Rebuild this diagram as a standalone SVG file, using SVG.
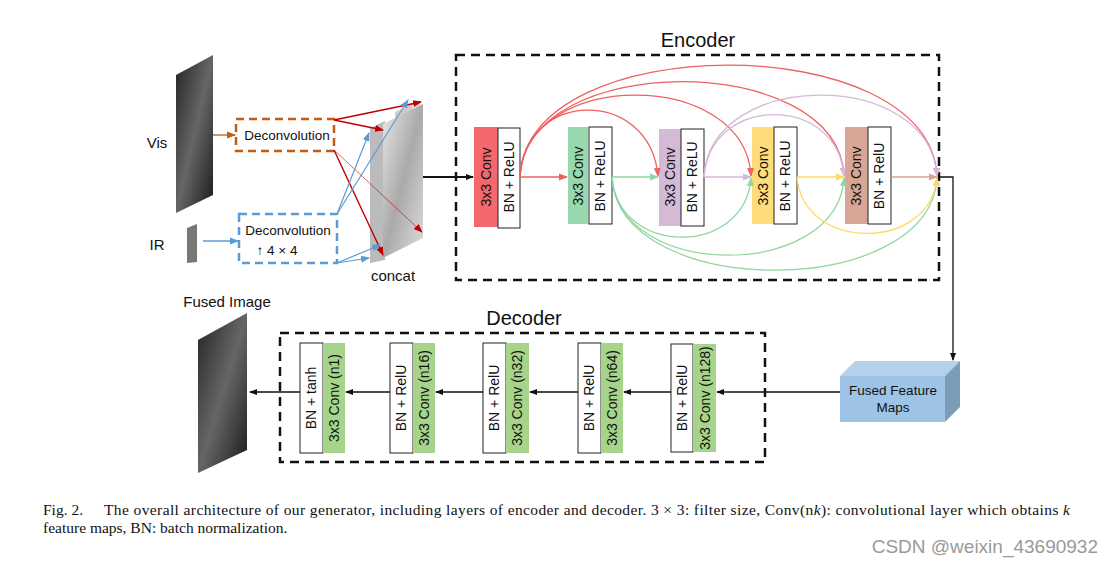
<svg xmlns="http://www.w3.org/2000/svg" width="1112" height="565" viewBox="0 0 1112 565">
<style>
text{font-family:"Liberation Sans",Arial,sans-serif;fill:#111}
.t{font-size:14px;text-anchor:middle;dominant-baseline:central}
.w{fill:#fff;stroke:#222;stroke-width:1}
.dash{fill:none;stroke:#111;stroke-width:2.5;stroke-dasharray:9,6}
.c{fill:none;stroke-width:1.3}
.cap{font-family:"Liberation Serif","Times New Roman",serif;font-size:15.5px}
</style>
<defs>
<marker id="ak" markerWidth="8" markerHeight="8" refX="7" refY="4" orient="auto" markerUnits="userSpaceOnUse"><path d="M0,1 L8,4 L0,7z" fill="#111"/></marker>
<marker id="ar" markerWidth="9" markerHeight="8" refX="8" refY="4" orient="auto" markerUnits="userSpaceOnUse"><path d="M0,0.5 L9,4 L0,7.5z" fill="#f06060"/></marker>
<marker id="ar2" markerWidth="9" markerHeight="8" refX="8" refY="4" orient="auto" markerUnits="userSpaceOnUse"><path d="M0,0.5 L9,4 L0,7.5z" fill="#c00000"/></marker>
<marker id="ag" markerWidth="9" markerHeight="8" refX="8" refY="4" orient="auto" markerUnits="userSpaceOnUse"><path d="M0,0.5 L9,4 L0,7.5z" fill="#8fd6a0"/></marker>
<marker id="ap" markerWidth="9" markerHeight="8" refX="8" refY="4" orient="auto" markerUnits="userSpaceOnUse"><path d="M0,0.5 L9,4 L0,7.5z" fill="#d6b8d8"/></marker>
<marker id="ay" markerWidth="9" markerHeight="8" refX="8" refY="4" orient="auto" markerUnits="userSpaceOnUse"><path d="M0,0.5 L9,4 L0,7.5z" fill="#ffd966"/></marker>
<marker id="ab" markerWidth="9" markerHeight="8" refX="8" refY="4" orient="auto" markerUnits="userSpaceOnUse"><path d="M0,0.5 L9,4 L0,7.5z" fill="#d9a592"/></marker>
<marker id="abl" markerWidth="9" markerHeight="8" refX="8" refY="4" orient="auto" markerUnits="userSpaceOnUse"><path d="M0,0.5 L9,4 L0,7.5z" fill="#5b9bd5"/></marker>
<marker id="ao" markerWidth="9" markerHeight="8" refX="8" refY="4" orient="auto" markerUnits="userSpaceOnUse"><path d="M0,0.5 L9,4 L0,7.5z" fill="#c55a11"/></marker>
<linearGradient id="img" x1="0" y1="0" x2="1" y2="1"><stop offset="0" stop-color="#222"/><stop offset="0.5" stop-color="#666"/><stop offset="1" stop-color="#1a1a1a"/></linearGradient>
<linearGradient id="img2" x1="0" y1="0" x2="1" y2="1"><stop offset="0" stop-color="#e8e8e8"/><stop offset="0.5" stop-color="#aaa"/><stop offset="1" stop-color="#ddd"/></linearGradient>
</defs>

<g id="vis"><polygon points="176,75 213,55 213,195 176,213" fill="url(#img)"/><text x="157" y="148" font-size="15" text-anchor="middle">Vis</text></g>
<g id="ir"><polygon points="187,228 197,224 197,262 187,263" fill="#777"/><text x="157" y="250" font-size="15" text-anchor="middle">IR</text></g>
<g id="deconv-vis"><rect x="236" y="119" width="98" height="32" fill="none" stroke="#c55a11" stroke-width="2.5" stroke-dasharray="8,5"/><text x="287" y="140" font-size="13.5" text-anchor="middle">Deconvolution</text></g>
<g id="deconv-ir"><rect x="239" y="214" width="98" height="49" fill="none" stroke="#5b9bd5" stroke-width="2.5" stroke-dasharray="8,5"/><text x="288" y="235" font-size="13.5" text-anchor="middle">Deconvolution</text><text x="277" y="255" font-size="13.5" text-anchor="middle">↑ 4 × 4</text></g>
<g id="concat">
<polygon points="405,106 420,100 423,232 405,240" fill="#ddd"/>
<polygon points="395,112 412,104 414,240 395,248" fill="#ccc"/>
<polygon points="370,128 385,121 385,260 370,263" fill="#bbb"/>
<polygon points="383,124 423,104 423,238 383,258" fill="url(#img2)"/>
<text x="393" y="281" font-size="15" text-anchor="middle">concat</text>
</g>
<g id="fused-image"><polygon points="198,340 247,313 247,450 198,473" fill="url(#img)"/><text x="227" y="307" font-size="15" text-anchor="middle">Fused Image</text></g>

<g id="encoder"><rect x="456" y="55" width="483" height="225" class="dash"/><text x="698" y="47" font-size="20" text-anchor="middle">Encoder</text></g>
<g id="enc1"><rect x="474" y="127" width="24" height="100" fill="#f4676c"/><rect x="498" y="128" width="22" height="100" class="w"/><text class="t" transform="translate(486,177) rotate(-90)">3x3 Conv</text><text class="t" transform="translate(509,177) rotate(-90)">BN + ReLU</text></g>
<g id="enc2"><rect x="568" y="127" width="20" height="97" fill="#98d8ae"/><rect x="589" y="127" width="23" height="97" class="w"/><text class="t" transform="translate(578,176) rotate(-90)">3x3 Conv</text><text class="t" transform="translate(600,176) rotate(-90)">BN + ReLU</text></g>
<g id="enc3"><rect x="659" y="129" width="22" height="97" fill="#d5bad6"/><rect x="681" y="129" width="23" height="97" class="w"/><text class="t" transform="translate(670,177) rotate(-90)">3x3 Conv</text><text class="t" transform="translate(692,177) rotate(-90)">BN + ReLU</text></g>
<g id="enc4"><rect x="752" y="127" width="22" height="97" fill="#ffdc7a"/><rect x="774" y="127" width="23" height="97" class="w"/><text class="t" transform="translate(763,176) rotate(-90)">3x3 Conv</text><text class="t" transform="translate(785,176) rotate(-90)">BN + ReLU</text></g>
<g id="enc5"><rect x="845" y="127" width="23" height="97" fill="#d7a694"/><rect x="868" y="127" width="23" height="97" class="w"/><text class="t" transform="translate(856,176) rotate(-90)">3x3 Conv</text><text class="t" transform="translate(879,176) rotate(-90)">BN + RelU</text></g>

<g id="decoder"><rect x="280" y="333" width="485" height="129" class="dash"/><text x="524" y="325" font-size="20" text-anchor="middle">Decoder</text></g>
<g id="dec1"><rect x="300" y="343" width="23" height="110" class="w"/><rect x="323" y="343" width="22" height="110" fill="#a6d48a"/><text class="t" transform="translate(311,398) rotate(-90)">BN + tanh</text><text class="t" transform="translate(334,398) rotate(-90)">3x3 Conv (n1)</text></g>
<g id="dec2"><rect x="390" y="343" width="23" height="110" class="w"/><rect x="413" y="343" width="22" height="110" fill="#a6d48a"/><text class="t" transform="translate(401,398) rotate(-90)">BN + RelU</text><text class="t" transform="translate(424,398) rotate(-90)">3x3 Conv (n16)</text></g>
<g id="dec3"><rect x="483" y="343" width="23" height="110" class="w"/><rect x="506" y="343" width="23" height="110" fill="#a6d48a"/><text class="t" transform="translate(494,398) rotate(-90)">BN + RelU</text><text class="t" transform="translate(517,398) rotate(-90)">3x3 Conv (n32)</text></g>
<g id="dec4"><rect x="578" y="343" width="23" height="110" class="w"/><rect x="601" y="343" width="22" height="110" fill="#a6d48a"/><text class="t" transform="translate(589,398) rotate(-90)">BN + RelU</text><text class="t" transform="translate(612,398) rotate(-90)">3x3 Conv (n64)</text></g>
<g id="dec5"><rect x="671" y="344" width="22" height="108" class="w"/><rect x="693" y="344" width="23" height="108" fill="#a6d48a"/><text class="t" transform="translate(682,398) rotate(-90)">BN + RelU</text><text class="t" transform="translate(705,398) rotate(-90)">3x3 Conv (n128)</text></g>

<g id="fused-maps">
<polygon points="840,376 855,361 960,361 945,376" fill="#b4d1ea"/>
<polygon points="945,376 960,361 960,407 945,422" fill="#7c9db8"/>
<rect x="840" y="376" width="105" height="46" fill="#9dc3e6"/>
<text x="893" y="395" font-size="13.5" text-anchor="middle">Fused Feature</text>
<text x="893" y="412" font-size="13.5" text-anchor="middle">Maps</text>
</g>

<g id="connectors">
<line x1="213" y1="135" x2="235" y2="135" stroke="#c55a11" stroke-width="1.3" marker-end="url(#ao)"/>
<line x1="203" y1="241" x2="238" y2="241" stroke="#5b9bd5" stroke-width="1.3" marker-end="url(#abl)"/>
<g stroke="#c00000" stroke-width="1.4" marker-end="url(#ar2)">
<line x1="334" y1="120" x2="421" y2="102"/><line x1="334" y1="120" x2="383" y2="130"/>
<line x1="334" y1="150" x2="383" y2="255"/><line x1="334" y1="150" x2="422" y2="232" stroke-width="0.6"/>
</g>
<g stroke="#5b9bd5" stroke-width="1.2" marker-end="url(#abl)">
<line x1="337" y1="214" x2="369" y2="133"/><line x1="337" y1="214" x2="408" y2="100"/>
<line x1="337" y1="263" x2="369" y2="258"/><line x1="337" y1="263" x2="380" y2="245"/>
</g>
<line x1="423" y1="177" x2="473" y2="177" stroke="#111" stroke-width="1.8" marker-end="url(#ak)"/>
<g class="c" stroke="#f06060" marker-end="url(#ar)">
<path d="M520,177 L567,177"/>
<path d="M520,177 C525,88 650,88 658,176"/>
<path d="M520,177 C525,68 745,68 751,176"/>
<path d="M520,177 C525,50 838,50 844,176"/>
<path d="M520,177 C525,28 930,28 937,176"/>
</g>
<g class="c" stroke="#8fd6a0" marker-end="url(#ag)">
<path d="M612,177 L658,177"/>
<path d="M612,177 C618,257 745,257 751,178"/>
<path d="M612,177 C618,281 838,281 844,178"/>
<path d="M612,177 C618,301 930,301 937,178"/>
</g>
<g class="c" stroke="#d6b8d8" marker-end="url(#ap)">
<path d="M704,177 L751,177"/>
<path d="M704,177 C710,94 838,94 844,176"/>
<path d="M704,177 C710,68 930,68 937,176"/>
</g>
<g class="c" stroke="#ffd966" marker-end="url(#ay)">
<path d="M797,177 L844,177"/>
<path d="M797,177 C803,252 930,252 937,178"/>
</g>
<line x1="891" y1="177" x2="937" y2="177" class="c" stroke="#d9a592" marker-end="url(#ab)"/>
<polyline points="938,177 953,177 953,360" fill="none" stroke="#111" stroke-width="1.3" marker-end="url(#ak)"/>
<g stroke="#111" stroke-width="1.3" marker-end="url(#ak)">
<line x1="840" y1="392" x2="717" y2="392"/>
<line x1="671" y1="392" x2="624" y2="392"/>
<line x1="578" y1="392" x2="530" y2="392"/>
<line x1="483" y1="392" x2="436" y2="392"/>
<line x1="390" y1="392" x2="346" y2="392"/>
<line x1="300" y1="392" x2="250" y2="392"/>
</g>
</g>

<text class="cap" x="43" y="515">Fig. 2.</text>
<text class="cap" x="104" y="515" textLength="966" lengthAdjust="spacing">The overall architecture of our generator, including layers of encoder and decoder. 3 × 3: filter size, Conv(n<tspan font-style="italic">k</tspan>): convolutional layer which obtains <tspan font-style="italic">k</tspan></text>
<text class="cap" x="43" y="533">feature maps, BN: batch normalization.</text>
<text x="1098" y="553" font-size="19" text-anchor="end" style="fill:#999">CSDN @weixin_43690932</text>
</svg>
